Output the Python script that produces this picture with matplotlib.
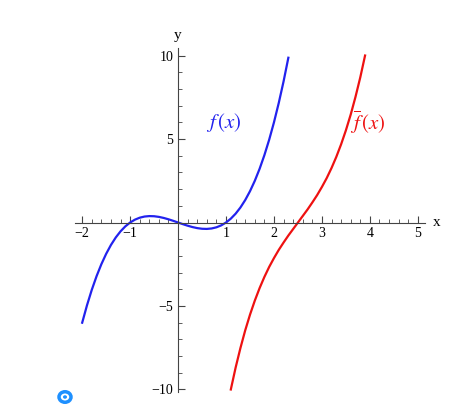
import matplotlib
matplotlib.use("Agg")
import matplotlib.pyplot as plt
from matplotlib.ticker import MultipleLocator

plt.rcParams["font.family"] = ["Liberation Serif", "DejaVu Serif"]

# f(x)
f_x = [-2, -1.9, -1.8, -1.7, -1.6, -1.5, -1.4, -1.3, -1.2, -1.1, -1, -0.9, -0.8,
       -0.7, -0.6, -0.5, -0.4, -0.3, -0.2, -0.1, 0, 0.1, 0.2, 0.3, 0.4, 0.5,
       0.6, 0.7, 0.8, 0.9, 1, 1.1, 1.2, 1.3, 1.4, 1.5, 1.6, 1.7, 1.8, 1.9, 2,
       2.1, 2.2, 2.3]
f_y = [-6, -4.959, -4.032, -3.213, -2.496, -1.875, -1.344, -0.897, -0.528,
       -0.231, 0, 0.171, 0.288, 0.357, 0.384, 0.375, 0.336, 0.273, 0.192, 0.099,
       0, -0.099, -0.192, -0.273, -0.336, -0.375, -0.384, -0.357, -0.288, -0.171,
       0, 0.231, 0.528, 0.897, 1.344, 1.875, 2.496, 3.213, 4.032, 4.959, 6,
       7.161, 8.448, 9.867]

# f-bar(x)
g_x = [1.1, 1.2, 1.3, 1.4, 1.5, 1.6, 1.7, 1.8, 1.9, 2.0, 2.1, 2.2, 2.3, 2.4,
       2.5, 2.6, 2.7, 2.8, 2.9, 3.0, 3.1, 3.2, 3.3, 3.4, 3.5, 3.6, 3.7, 3.8, 3.9]
g_y = [-10.0, -8.69, -7.52, -6.46, -5.52, -4.68, -3.93, -3.26, -2.66, -2.13,
       -1.64, -1.20, -0.78, -0.39, 0, 0.39, 0.78, 1.20, 1.64, 2.13, 2.66, 3.26,
       3.93, 4.68, 5.52, 6.46, 7.52, 8.69, 10.0]

W, H = 474, 416
fig = plt.figure(figsize=(W / 100, H / 100), dpi=100)
ax = fig.add_axes([75 / W, 1 - 392 / H, 350 / W, 344 / H])

ax.plot(f_x, f_y, color="#2222ee", lw=1.6, solid_joinstyle="round")
ax.plot(g_x, g_y, color="#ee1111", lw=1.6, solid_joinstyle="round")

ax.set_xlim(-2.15, 5.15)
ax.set_ylim(-10.15, 10.45)

for s in ("top", "right"):
    ax.spines[s].set_visible(False)
ax.spines["left"].set_position(("data", 0))
ax.spines["bottom"].set_position(("data", 0))
ax.spines["left"].set_color("#444444")
ax.spines["bottom"].set_color("#444444")

ax.xaxis.set_major_locator(MultipleLocator(1))
ax.xaxis.set_minor_locator(MultipleLocator(0.2))
ax.yaxis.set_major_locator(MultipleLocator(5))
ax.yaxis.set_minor_locator(MultipleLocator(1))
ax.tick_params(axis="both", which="both", direction="in", labelsize=10, color="#444444")
ax.tick_params(which="major", length=5)
ax.tick_params(which="minor", length=3)

ax.set_xticks([-2, -1, 1, 2, 3, 4, 5])
ax.set_xticklabels(["\u22122", "\u22121", "1", "2", "3", "4", "5"])
ax.set_yticks([-10, -5, 5, 10])
ax.set_yticklabels(["\u221210", "\u22125", "5", "10"])

ax.text(5.32, 0, "x", fontsize=11, va="center", ha="left", clip_on=False)
ax.text(0, 10.8, "y", fontsize=11, va="bottom", ha="center", clip_on=False)

ax.text(0.95, 6.0, r"$f\,(x)$", color="#2222ee", fontsize=15, ha="center",
        va="center", math_fontfamily="stix")
ax.text(3.95, 6.0, r"$\overline{f}\,(x)$", color="#ee1111", fontsize=15,
        ha="center", va="center", math_fontfamily="stix")

# small blue ring in lower left corner
fig.patches.append(plt.Circle((65 / W, 1 - 397 / H), 6 / W, transform=fig.transFigure,
                              facecolor="white", edgecolor="#1e90ff", lw=2.5))
fig.patches.append(plt.Circle((65 / W, 1 - 397 / H), 2 / W, transform=fig.transFigure,
                              facecolor="#1e90ff", edgecolor="none"))

fig.savefig("out.png", dpi=100)
